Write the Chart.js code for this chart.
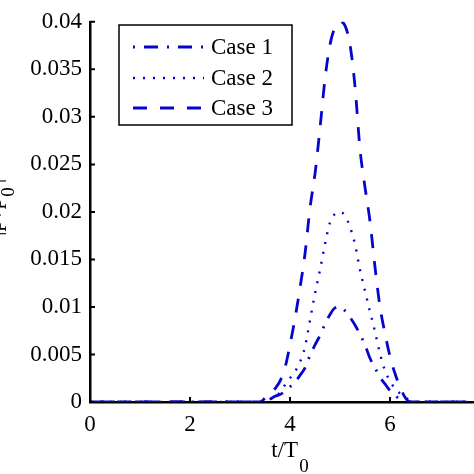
<!DOCTYPE html>
<html>
<head>
<meta charset="utf-8">
<script src="https://cdn.jsdelivr.net/npm/chart.js@4/dist/chart.umd.min.js"></script>
<style>
  html, body { margin: 0; padding: 0; background: #fff; overflow: hidden; }
  #wrap { position: absolute; left: 0; top: 0; width: 520px; height: 474px; }
</style>
</head>
<body>
<div id="wrap"><canvas id="chart"></canvas></div>
<script>
// sample times (t/T0) and the three pulse curves
const tValues = [0, 3.3, 3.4, 3.5, 3.6, 3.7, 3.8, 3.9, 4.0, 4.1, 4.2, 4.3, 4.4, 4.5, 4.6, 4.7, 4.8, 4.9,
  5.0, 5.1, 5.2, 5.3, 5.4, 5.5, 5.6, 5.7, 5.8, 5.9, 6.0, 6.1, 6.2, 6.3, 6.4, 6.5, 8];
const case1 = [0, 0, 0, 0.0001, 0.0003, 0.0006, 0.0008, 0.0011, 0.0016, 0.0021, 0.0028, 0.0036, 0.0049, 0.0060,
  0.0070, 0.0082, 0.0092, 0.0099, 0.0100, 0.0096, 0.0089, 0.0081, 0.0071, 0.0060, 0.0046, 0.0036, 0.0026,
  0.0019, 0.0012, 0.0007, 0.0003, 0.0001, 0, 0, 0];
const case2 = [0, 0, 0, 0.0001, 0.0003, 0.0005, 0.0010, 0.0018, 0.0025, 0.0032, 0.0042, 0.0058, 0.0086, 0.0114,
  0.0139, 0.0166, 0.0189, 0.0198, 0.0200, 0.0196, 0.0184, 0.0166, 0.0139, 0.0117, 0.0095, 0.0074, 0.0051,
  0.0033, 0.0022, 0.0014, 0.0009, 0.0005, 0.0002, 0, 0];
const case3 = [0, 0, 0, 0.0004, 0.0008, 0.0014, 0.0022, 0.0036, 0.0060, 0.0088, 0.0120, 0.0156, 0.0204, 0.0240,
  0.0288, 0.0340, 0.0376, 0.0394, 0.0400, 0.0396, 0.0376, 0.0332, 0.0266, 0.0226, 0.0190, 0.0142, 0.0100,
  0.0072, 0.0048, 0.0030, 0.0016, 0.0005, 0, 0, 0];
const seriesNames = ['Case 1', 'Case 2', 'Case 3'];

const xTickValues = [0, 2, 4, 6, 8];
const yTickValues = [0, 0.005, 0.01, 0.015, 0.02, 0.025, 0.03, 0.035, 0.04];
const yTickLabels = ['0', '0.005', '0.01', '0.015', '0.02', '0.025', '0.03', '0.035', '0.04'];

const FONT = '"Liberation Serif", "Times New Roman", serif';
const BLUE = 'rgb(5,5,205)';

function pts(ys) {
  return tValues.map((t, i) => ({ x: t, y: ys[i] }));
}

// inward ticks, axis titles with subscripts and the boxed legend
const decorations = {
  id: 'decorations',
  afterDraw(chart) {
    const { ctx, chartArea: a, scales: { x, y } } = chart;
    ctx.save();
    ctx.strokeStyle = '#000';
    ctx.lineWidth = 2;
    ctx.setLineDash([]);
    ctx.beginPath();
    y.ticks.forEach(t => {
      const py = y.getPixelForValue(t.value);
      ctx.moveTo(a.left, py); ctx.lineTo(a.left + 5, py);
    });
    x.ticks.forEach(t => {
      const px = x.getPixelForValue(t.value);
      ctx.moveTo(px, a.bottom); ctx.lineTo(px, a.bottom - 5);
    });
    ctx.stroke();

    ctx.fillStyle = '#000';
    ctx.textBaseline = 'alphabetic';
    ctx.textAlign = 'left';

    // x title: t/T0
    ctx.font = '23px ' + FONT;
    const wMain = ctx.measureText('t/T').width;
    ctx.font = '19px ' + FONT;
    const wSub = ctx.measureText('0').width;
    const cx = (a.left + a.right) / 2;
    const x0 = cx - (wMain + wSub + 1) / 2;
    ctx.font = '23px ' + FONT;
    ctx.fillText('t/T', x0, 457);
    ctx.font = '19px ' + FONT;
    ctx.fillText('0', x0 + wMain + 1, 472);

    // y title, mostly cut by the left edge of the figure
    ctx.save();
    ctx.translate(1, 0);
    ctx.rotate(-Math.PI / 2);
    let lx = -236;
    ctx.font = '23px ' + FONT;
    ctx.fillText("|p'/p", lx, 0);
    lx += ctx.measureText("|p'/p").width + 1;
    ctx.font = '19px ' + FONT;
    ctx.fillText('0', lx, 13);
    lx += ctx.measureText('0').width;
    ctx.font = '23px ' + FONT;
    ctx.fillText("'|", lx, 0);
    ctx.restore();

    // legend box
    const bx = 119, by = 25, bw = 173, bh = 100;
    ctx.fillStyle = '#fff';
    ctx.fillRect(bx, by, bw, bh);
    ctx.lineWidth = 1.5;
    ctx.strokeStyle = '#000';
    ctx.strokeRect(bx, by, bw, bh);
    const rows = [47, 78, 108];
    chart.data.datasets.forEach((ds, i) => {
      const ry = rows[i];
      ctx.save();
      ctx.strokeStyle = ds.borderColor;
      ctx.lineWidth = ds.borderWidth;
      ctx.setLineDash(ds.borderDash);
      ctx.beginPath();
      ctx.moveTo(133, ry); ctx.lineTo(204, ry);
      ctx.stroke();
      ctx.restore();
      ctx.fillStyle = '#000';
      ctx.font = '23px ' + FONT;
      ctx.textBaseline = 'middle';
      ctx.fillText(ds.label, 211, ry + 1);
    });
    ctx.restore();
  }
};

new Chart(document.getElementById('chart'), {
  type: 'line',
  data: {
    datasets: [
      { label: seriesNames[0], data: pts(case1), borderColor: BLUE, borderWidth: 2.8, borderDash: [2, 9, 14, 9] },
      { label: seriesNames[1], data: pts(case2), borderColor: BLUE, borderWidth: 2.4, borderDash: [2, 8] },
      { label: seriesNames[2], data: pts(case3), borderColor: BLUE, borderWidth: 2.8, borderDash: [14, 13] }
    ]
  },
  options: {
    responsive: true,
    maintainAspectRatio: false,
    animation: false,
    parsing: false,
    elements: {
      point: { radius: 0 },
      line: { cubicInterpolationMode: 'monotone', fill: false }
    },
    layout: { padding: { top: 13, right: 30, left: 0, bottom: 0 }, autoPadding: false },
    plugins: { legend: { display: false }, tooltip: { enabled: false } },
    scales: {
      x: {
        type: 'linear', min: 0, max: 8,
        afterBuildTicks: s => { s.ticks = xTickValues.map(v => ({ value: v })); },
        afterFit: s => { s.height = 72; },
        grid: { drawOnChartArea: false, drawTicks: false },
        border: { display: true, color: '#000', width: 2.5 },
        ticks: { color: '#000', padding: 9, maxRotation: 0, font: { family: FONT, size: 23 },
          callback: v => String(v) }
      },
      y: {
        type: 'linear', min: 0, max: 0.04,
        afterBuildTicks: s => { s.ticks = yTickValues.map(v => ({ value: v })); },
        afterFit: s => { s.width = 90; },
        grid: { drawOnChartArea: false, drawTicks: false },
        border: { display: true, color: '#000', width: 2.5 },
        ticks: { color: '#000', padding: 8, font: { family: FONT, size: 23 },
          callback: (v, i) => yTickLabels[i] }
      }
    }
  },
  plugins: [decorations]
});
</script>
</body>
</html>
